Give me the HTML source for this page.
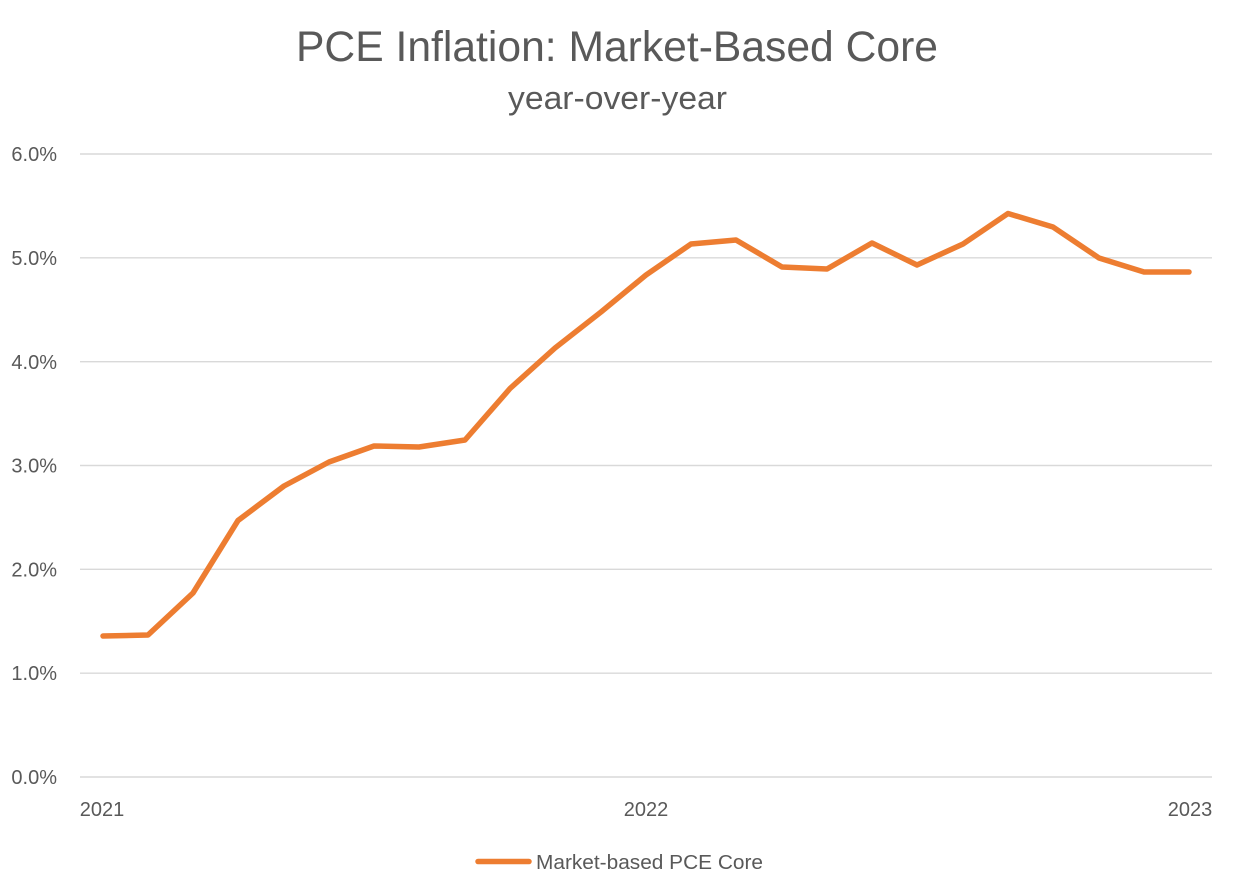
<!DOCTYPE html>
<html>
<head>
<meta charset="utf-8">
<style>
  html, body { margin:0; padding:0; background:#ffffff; }
  svg { display:block; }
  text { font-family: "Liberation Sans", "DejaVu Sans", sans-serif; fill:#595959; }
</style>
</head>
<body>
<svg width="1234" height="890" viewBox="0 0 1234 890" xmlns="http://www.w3.org/2000/svg">
  <rect x="0" y="0" width="1234" height="890" fill="#ffffff"/>
  <!-- Title -->
  <text x="296" y="61" font-size="43" textLength="642" lengthAdjust="spacingAndGlyphs">PCE Inflation: Market-Based Core</text>
  <text x="508" y="109" font-size="32" textLength="219" lengthAdjust="spacingAndGlyphs">year-over-year</text>

  <!-- Gridlines -->
  <g stroke="#D9D9D9" stroke-width="1.4">
    <line x1="80" y1="154" x2="1212" y2="154"/>
    <line x1="80" y1="257.8" x2="1212" y2="257.8"/>
    <line x1="80" y1="361.7" x2="1212" y2="361.7"/>
    <line x1="80" y1="465.5" x2="1212" y2="465.5"/>
    <line x1="80" y1="569.3" x2="1212" y2="569.3"/>
    <line x1="80" y1="673.2" x2="1212" y2="673.2"/>
    <line x1="80" y1="777" x2="1212" y2="777"/>
  </g>

  <!-- Y labels -->
  <g font-size="20" text-anchor="end">
    <text x="57" y="161">6.0%</text>
    <text x="57" y="265">5.0%</text>
    <text x="57" y="369">4.0%</text>
    <text x="57" y="472.5">3.0%</text>
    <text x="57" y="576.5">2.0%</text>
    <text x="57" y="680">1.0%</text>
    <text x="57" y="784">0.0%</text>
  </g>

  <!-- X labels -->
  <g font-size="20" text-anchor="middle">
    <text x="102" y="816">2021</text>
    <text x="646" y="816">2022</text>
    <text x="1190" y="816">2023</text>
  </g>

  <!-- Series -->
  <polyline fill="none" stroke="#ED7D31" stroke-width="5.5" stroke-linejoin="round" stroke-linecap="round"
    points="103,636 148,635 193,593 238,520.5 284,486 329,462 374,446 419,447 465,440 510,388.5 555,348 601,312 646,275 691,244 736,240 782,267 827,269 872,243 917,265 963,244 1008,213.5 1053,227 1099,258 1144,272 1189,272"/>

  <!-- Legend -->
  <line x1="478" y1="861.5" x2="529" y2="861.5" stroke="#ED7D31" stroke-width="5.5" stroke-linecap="round"/>
  <text x="536" y="869" font-size="20" textLength="227" lengthAdjust="spacingAndGlyphs">Market-based PCE Core</text>
</svg>
</body>
</html>
